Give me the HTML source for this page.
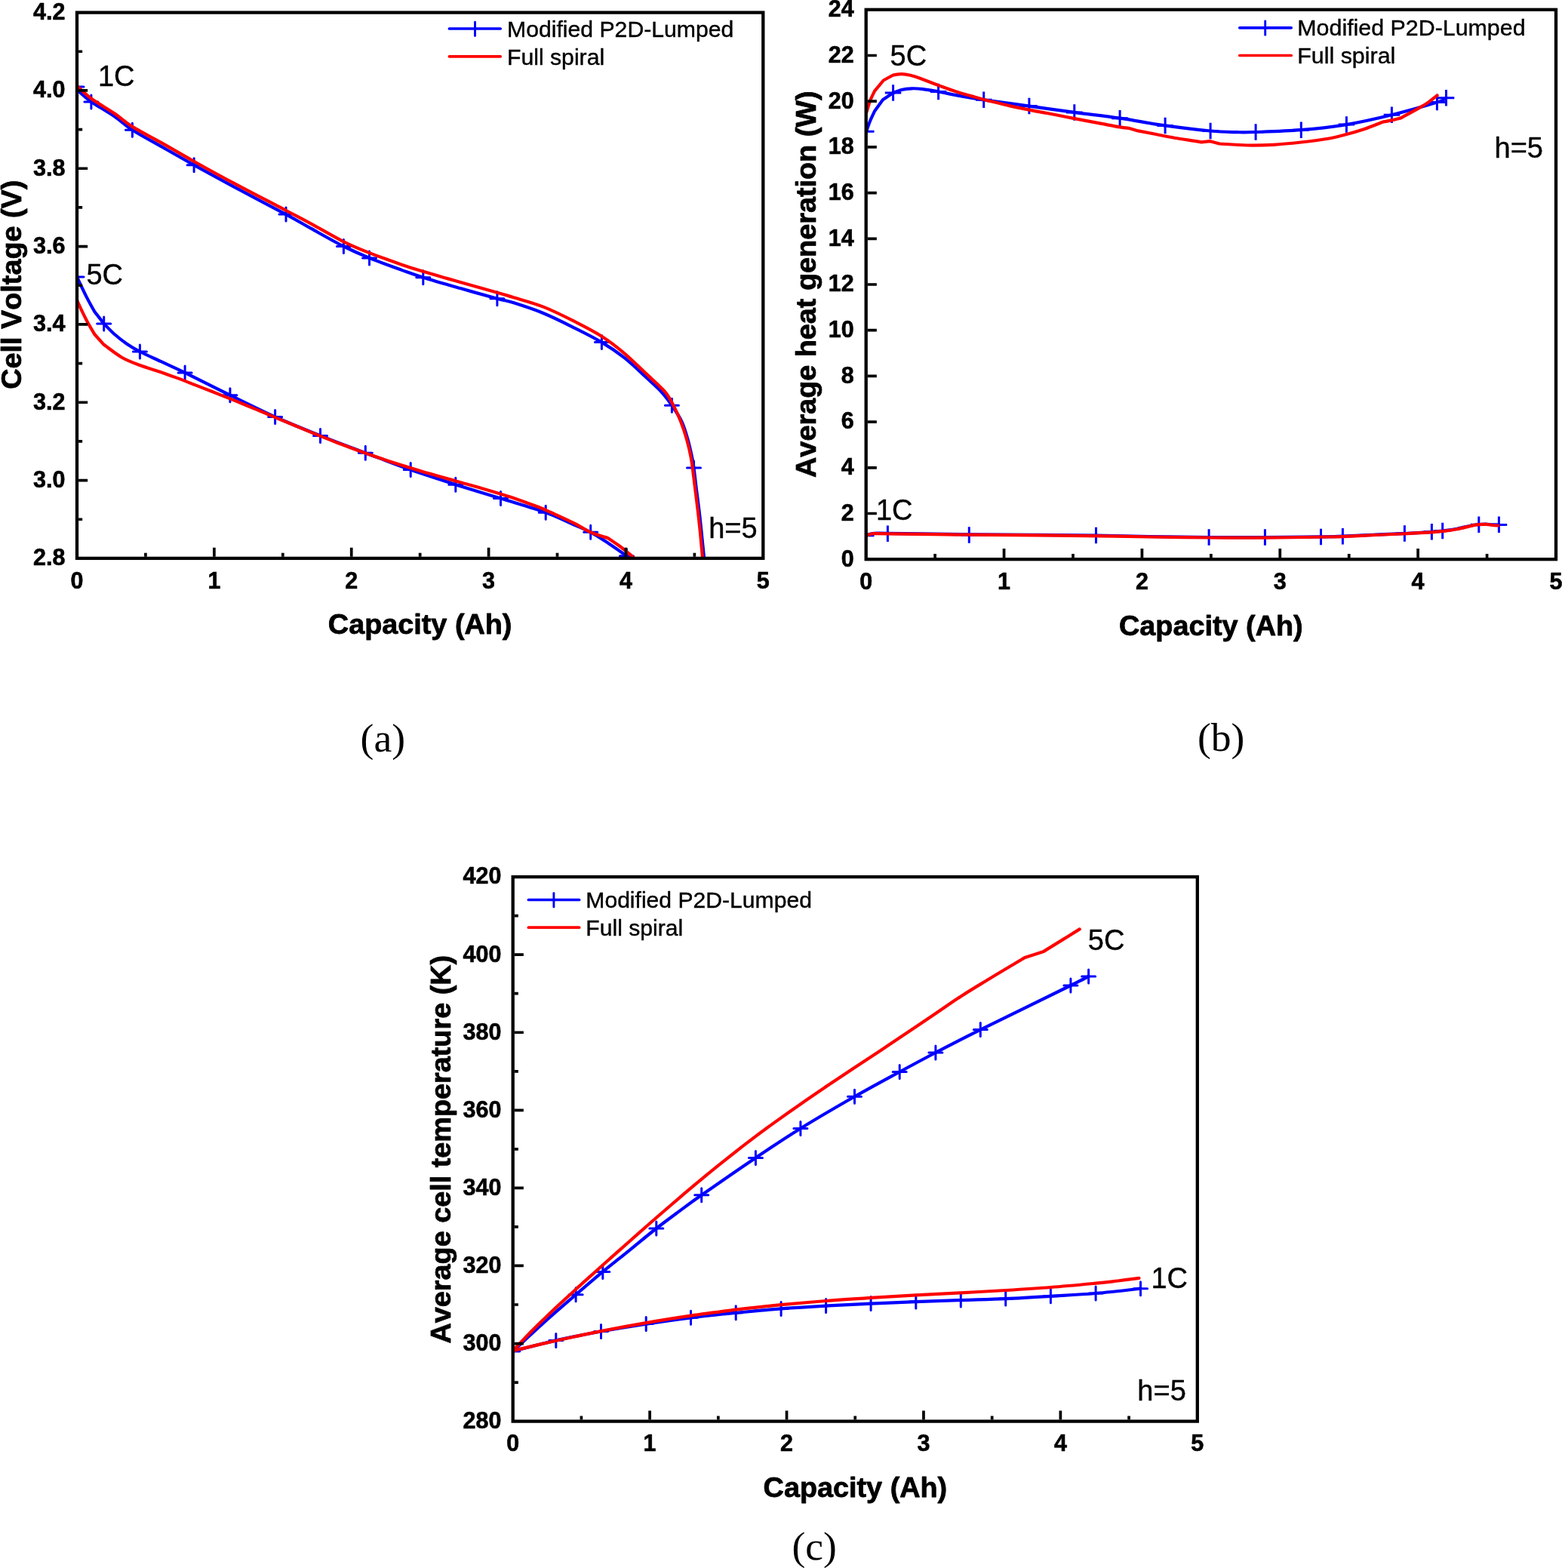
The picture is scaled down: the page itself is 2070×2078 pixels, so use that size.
<!DOCTYPE html>
<html lang="en">
<head>
<meta charset="utf-8">
<title>Modified P2D-Lumped vs Full spiral</title>
<style>
html,body{margin:0;padding:0;background:#fff;}
body{width:2070px;height:2078px;overflow:hidden;}
svg{display:block;}
text{fill:#000;font-kerning:none;}
.tk text{font-family:"Liberation Sans",Arial,sans-serif;font-weight:700;font-size:30.5px;stroke:#000;stroke-width:0.6px;stroke-linejoin:round;}
.ttl{font-family:"Liberation Sans",Arial,sans-serif;font-weight:700;font-size:37.8px;stroke:#000;stroke-width:0.8px;stroke-linejoin:round;}
.lg{font-family:"Liberation Sans",Arial,sans-serif;font-size:30.2px;stroke:#000;stroke-width:0.4px;}
.an{font-family:"Liberation Sans",Arial,sans-serif;font-size:38px;stroke:#000;stroke-width:0.4px;}
.sub{font-family:"Liberation Serif","Times New Roman",serif;font-size:53.5px;}
</style>
</head>
<body>
<svg xmlns="http://www.w3.org/2000/svg" width="2070" height="2078" viewBox="0 0 2070 2078">
<rect width="2070" height="2078" fill="#fff"/>
<g id="chart-a">
<clipPath id="clip-a"><rect x="102.0" y="16.6" width="909.3" height="725.3"/></clipPath>
<g clip-path="url(#clip-a)">
<path d="M102.0,115.0C102.3,115.7 103.2,117.6 104.0,119.0C104.8,120.4 104.2,120.8 107.0,123.5C109.8,126.2 113.4,129.7 120.9,134.9C128.5,140.1 143.2,148.5 152.3,154.7C161.4,160.9 165.0,165.6 175.4,172.3C185.8,179.0 201.1,187.0 214.7,194.7C228.3,202.4 241.5,210.0 257.1,218.7C272.7,227.3 287.9,235.7 308.2,246.6C328.5,257.5 361.6,274.7 379.0,284.1C396.4,293.5 400.2,296.1 412.9,303.2C425.6,310.3 442.6,320.1 455.4,326.5C468.2,332.9 476.6,336.6 489.5,341.9C502.4,347.2 521.0,353.8 532.9,358.1C544.8,362.4 547.9,363.7 560.8,367.7C573.6,371.7 593.6,377.4 610.0,382.1C626.4,386.8 647.2,392.6 658.9,395.8C670.6,399.0 669.9,397.9 680.0,401.1C690.1,404.3 706.2,409.4 719.3,414.8C732.4,420.2 745.7,426.8 758.7,433.3C771.7,439.8 785.9,446.8 797.4,453.6C808.9,460.4 817.6,466.3 827.5,474.2C837.4,482.1 848.8,493.2 857.0,500.8C865.2,508.4 871.1,513.4 876.7,519.5C882.3,525.6 885.9,530.7 890.4,537.2C894.9,543.8 900.0,551.3 903.5,558.8C907.0,566.3 909.2,574.2 911.5,582.4C913.8,590.6 916.2,601.7 917.5,608.0C918.8,614.3 918.7,613.9 919.5,620.1C920.3,626.3 921.3,635.8 922.5,645.3C923.7,654.8 925.3,667.0 926.5,676.8C927.7,686.6 928.5,694.5 929.5,704.3C930.5,714.1 932.1,729.7 932.7,735.8C933.3,741.9 933.1,740.1 933.2,741.0" stroke="#0000ff" stroke-width="4.2" fill="none" stroke-linejoin="round" stroke-linecap="round"/>
<path d="M93.0,115.0h18.0M102.0,106.0v18.0M111.9,134.9h18.0M120.9,125.9v18.0M166.4,172.3h18.0M175.4,163.3v18.0M248.1,218.7h18.0M257.1,209.7v18.0M370.0,284.1h18.0M379.0,275.1v18.0M446.4,326.5h18.0M455.4,317.5v18.0M480.5,341.9h18.0M489.5,332.9v18.0M551.8,367.7h18.0M560.8,358.7v18.0M649.9,395.8h18.0M658.9,386.8v18.0M788.4,453.6h18.0M797.4,444.6v18.0M881.4,537.2h18.0M890.4,528.2v18.0M910.5,620.1h18.0M919.5,611.1v18.0" stroke="#0000ff" stroke-width="3.0" stroke-linecap="round" fill="none"/>
<path d="M102.0,367.1C104.1,371.5 110.8,386.0 114.7,393.6C118.6,401.2 123.5,409.8 125.3,413.0 L137.7,428.9C140.0,431.2 146.8,438.6 151.8,443.0C156.8,447.4 162.1,451.6 167.7,455.4C173.3,459.2 177.8,462.0 185.4,466.0C193.1,470.0 203.7,474.6 213.6,479.2C223.5,483.8 229.9,486.5 245.1,493.9C260.3,501.3 285.0,513.9 304.9,523.7C324.8,533.5 344.7,543.5 364.6,552.5C384.5,561.5 404.6,569.4 424.5,577.4C444.4,585.4 464.4,592.7 484.3,600.2C504.2,607.7 524.3,615.6 544.2,622.6C564.1,629.6 583.9,635.9 603.8,642.2C623.7,648.5 643.6,654.3 663.5,660.5C683.4,666.7 707.3,673.5 723.2,679.2C739.1,684.9 748.8,690.1 758.7,694.5C768.6,698.9 775.5,701.5 782.7,705.3C789.9,709.1 794.0,711.9 801.9,717.1C809.8,722.4 824.9,732.9 830.4,736.8C835.9,740.7 834.2,739.9 835.0,740.5" stroke="#0000ff" stroke-width="4.2" fill="none" stroke-linejoin="round" stroke-linecap="round"/>
<path d="M93.0,367.1h18.0M102.0,358.1v18.0M128.7,428.9h18.0M137.7,419.9v18.0M176.4,466.0h18.0M185.4,457.0v18.0M236.1,493.9h18.0M245.1,484.9v18.0M295.9,523.7h18.0M304.9,514.7v18.0M355.6,552.5h18.0M364.6,543.5v18.0M415.5,577.4h18.0M424.5,568.4v18.0M475.3,600.2h18.0M484.3,591.2v18.0M535.2,622.6h18.0M544.2,613.6v18.0M594.8,642.2h18.0M603.8,633.2v18.0M654.5,660.5h18.0M663.5,651.5v18.0M714.2,679.2h18.0M723.2,670.2v18.0M773.7,705.3h18.0M782.7,696.3v18.0M821.4,736.8h18.0M830.4,727.8v18.0" stroke="#0000ff" stroke-width="3.0" stroke-linecap="round" fill="none"/>
<path d="M102.0,112.0C102.3,112.6 100.8,112.6 104.0,115.7C107.2,118.8 113.2,125.0 121.2,130.8C129.2,136.7 143.3,144.6 152.3,150.8C161.3,157.0 165.0,161.4 175.4,167.9C185.8,174.4 201.1,182.0 214.7,189.7C228.3,197.4 241.5,205.2 257.1,213.9C272.7,222.6 287.9,231.1 308.2,241.9C328.5,252.8 361.7,269.8 379.1,279.0C396.6,288.2 400.2,290.0 412.9,296.9C425.6,303.8 442.6,313.9 455.4,320.3C468.2,326.7 476.6,330.0 489.5,335.1C502.4,340.2 521.0,346.8 532.9,350.9C544.8,355.0 547.9,355.9 560.8,359.8C573.6,363.7 593.6,369.4 610.0,374.0C626.4,378.6 647.2,384.4 658.9,387.7C670.6,391.0 669.9,390.9 680.0,394.0C690.1,397.1 706.2,401.3 719.3,406.4C732.4,411.5 745.7,418.1 758.7,424.7C771.7,431.2 785.9,438.4 797.4,445.7C808.9,453.0 817.6,459.9 827.5,468.3C837.4,476.7 848.8,488.2 857.0,495.9C865.2,503.6 872.1,509.9 876.7,514.5C881.3,519.1 881.7,519.3 884.5,523.4C887.3,527.5 890.4,533.2 893.4,539.1C896.4,545.0 899.4,551.6 902.2,558.8C905.0,566.0 907.8,574.2 910.1,582.4C912.4,590.6 914.2,597.5 916.0,608.0C917.8,618.5 919.4,633.8 920.9,645.3C922.4,656.8 923.6,667.0 924.8,676.8C925.9,686.6 926.8,694.5 927.8,704.3C928.8,714.1 930.1,729.7 930.7,735.8C931.3,741.9 931.1,740.1 931.2,741.0" stroke="#ff0000" stroke-width="4.2" fill="none" stroke-linejoin="round" stroke-linecap="round"/>
<path d="M102.0,397.0C102.2,397.6 101.1,396.0 103.2,400.6C105.3,405.2 111.0,417.4 114.7,424.5C118.4,431.6 123.5,439.9 125.3,443.0 L137.7,456.8C141.7,459.6 153.6,469.2 161.5,473.7C169.4,478.2 177.3,481.0 185.3,484.0C193.3,487.0 201.4,489.2 209.4,491.9C217.4,494.6 225.0,497.4 233.1,500.4C241.2,503.3 249.9,506.8 257.8,509.9C265.7,513.0 272.9,515.7 280.7,518.8C288.5,521.9 296.9,525.2 304.9,528.4C312.8,531.6 320.3,534.7 328.4,538.0C336.4,541.3 345.2,545.0 353.2,548.3C361.1,551.6 368.2,554.5 376.1,557.9C384.0,561.2 392.8,564.8 400.8,568.1C408.8,571.5 416.4,574.6 424.3,577.7C432.2,580.9 438.2,583.4 448.2,587.2C458.2,591.0 470.3,595.7 484.3,600.6C498.3,605.5 518.3,612.1 532.2,616.6C546.1,621.0 556.0,623.8 567.9,627.3C579.8,630.8 591.9,634.1 603.8,637.4C615.7,640.8 627.4,643.9 639.4,647.4C651.4,651.0 664.0,654.6 676.0,658.6C688.0,662.6 703.9,668.5 711.7,671.3C719.5,674.2 715.1,672.3 722.9,675.8C730.7,679.3 748.7,687.4 758.7,692.3C768.7,697.2 774.8,701.9 782.7,705.4C790.6,708.9 802.0,711.9 805.9,713.2C808.5,715.0 816.4,720.1 821.6,724.0C826.8,727.9 834.1,734.0 837.3,736.8C840.5,739.5 840.4,739.9 841.0,740.5" stroke="#ff0000" stroke-width="4.2" fill="none" stroke-linejoin="round" stroke-linecap="round"/>
</g>
<rect x="102.0" y="16.6" width="909.30" height="723.30" fill="none" stroke="#000" stroke-width="4.3"/>
<path d="M192.93,737.75v-5M283.86,737.75v-12M374.79,737.75v-5M465.72,737.75v-12M556.65,737.75v-5M647.58,737.75v-12M738.51,737.75v-5M829.44,737.75v-12M920.37,737.75v-5M104.15,688.24h5M104.15,636.57h12M104.15,584.91h5M104.15,533.24h12M104.15,481.58h5M104.15,429.91h12M104.15,378.25h5M104.15,326.59h12M104.15,274.92h5M104.15,223.26h12M104.15,171.59h5M104.15,119.93h12M104.15,68.26h5" stroke="#000" stroke-width="3.7" fill="none"/>
<g class="tk">
<text transform="translate(102.0,779.9) scale(1,1.04)" text-anchor="middle">0</text>
<text transform="translate(283.9,779.9) scale(1,1.04)" text-anchor="middle">1</text>
<text transform="translate(465.7,779.9) scale(1,1.04)" text-anchor="middle">2</text>
<text transform="translate(647.6,779.9) scale(1,1.04)" text-anchor="middle">3</text>
<text transform="translate(829.4,779.9) scale(1,1.04)" text-anchor="middle">4</text>
<text transform="translate(1011.3,779.9) scale(1,1.04)" text-anchor="middle">5</text>
<text transform="translate(86.5,749.3) scale(1,1.04)" text-anchor="end">2.8</text>
<text transform="translate(86.5,646.0) scale(1,1.04)" text-anchor="end">3.0</text>
<text transform="translate(86.5,542.6) scale(1,1.04)" text-anchor="end">3.2</text>
<text transform="translate(86.5,439.3) scale(1,1.04)" text-anchor="end">3.4</text>
<text transform="translate(86.5,336.0) scale(1,1.04)" text-anchor="end">3.6</text>
<text transform="translate(86.5,232.7) scale(1,1.04)" text-anchor="end">3.8</text>
<text transform="translate(86.5,129.3) scale(1,1.04)" text-anchor="end">4.0</text>
<text transform="translate(86.5,26.0) scale(1,1.04)" text-anchor="end">4.2</text>
</g>
<text class="ttl" transform="translate(556.65,840.2) scale(1,1)" text-anchor="middle">Capacity (Ah)</text>
<text class="ttl" transform="translate(28.0,377.2) rotate(-90)" text-anchor="middle">Cell Voltage (V)</text>
<text class="sub" x="507.3" y="995.8" text-anchor="middle">(a)</text>
<path d="M595.4,38.0H663.2" stroke="#0000ff" stroke-width="3.7" stroke-linecap="round"/>
<path d="M629.5,29.1v18.4" stroke="#0000ff" stroke-width="2.9" stroke-linecap="round"/>
<path d="M595.4,74.8H663.2" stroke="#ff0000" stroke-width="3.7" stroke-linecap="round"/>
<text class="lg" transform="translate(672.0,48.5)">Modified P2D-Lumped</text>
<text class="lg" transform="translate(672.0,85.8)">Full spiral</text>
<text class="an" transform="translate(130,113.6) scale(1,1.04)">1C</text>
<text class="an" transform="translate(114.5,376.8) scale(1,1.04)">5C</text>
<text class="an" transform="translate(939.2,713.4) scale(1,1)">h=5</text>
</g>
<g id="chart-b">
<clipPath id="clip-b"><rect x="1147.7" y="12.8" width="914.3" height="730.4000000000001"/></clipPath>
<g clip-path="url(#clip-b)">
<path d="M1147.7,174.3C1147.9,173.8 1148.2,173.7 1149.1,171.3C1150.0,168.9 1151.6,163.7 1153.3,159.7C1155.0,155.7 1158.1,149.3 1159.1,147.2 L1169.9,132.3 L1183.6,123.1C1185.5,122.4 1190.8,120.0 1194.9,119.0C1199.0,118.0 1203.5,117.5 1208.2,117.3C1212.9,117.1 1217.2,117.4 1223.1,118.1C1229.0,118.8 1235.3,120.0 1243.6,121.5C1251.9,123.0 1263.0,125.5 1273.0,127.3C1283.0,129.1 1288.5,130.1 1303.7,132.3C1318.9,134.5 1343.9,137.8 1363.9,140.6C1383.9,143.4 1403.8,146.2 1423.8,148.9C1443.8,151.6 1464.0,153.8 1484.1,156.7C1504.1,159.6 1524.1,163.6 1544.1,166.4C1564.1,169.2 1588.2,172.0 1604.1,173.5C1620.0,175.0 1629.5,174.9 1639.5,175.2C1649.5,175.4 1650.0,175.5 1664.1,175.0C1678.2,174.5 1704.2,173.8 1724.3,172.2C1744.3,170.5 1764.4,168.4 1784.4,165.1C1804.4,161.8 1824.4,157.2 1844.4,152.3C1864.4,147.4 1892.4,139.3 1904.4,135.6C1916.4,131.8 1914.5,130.8 1916.5,129.8" stroke="#0000ff" stroke-width="4.2" fill="none" stroke-linejoin="round" stroke-linecap="round"/>
<path d="M1137.0,174.3h21.5M1147.7,163.6v21.5M1172.8,123.1h21.5M1183.6,112.3v21.5M1232.8,121.5h21.5M1243.6,110.8v21.5M1293.0,132.3h21.5M1303.7,121.6v21.5M1353.2,140.6h21.5M1363.9,129.8v21.5M1413.0,148.9h21.5M1423.8,138.2v21.5M1473.3,156.7h21.5M1484.1,145.9v21.5M1533.3,166.4h21.5M1544.1,155.7v21.5M1593.3,173.5h21.5M1604.1,162.8v21.5M1653.3,175.0h21.5M1664.1,164.2v21.5M1713.5,172.2h21.5M1724.3,161.4v21.5M1773.7,165.1h21.5M1784.4,154.3v21.5M1833.7,152.3h21.5M1844.4,141.6v21.5M1893.7,135.6h21.5M1904.4,124.8v21.5M1905.8,129.8h21.5M1916.5,119.1v21.5" stroke="#0000ff" stroke-width="3.0" stroke-linecap="butt" fill="none"/>
<path d="M1147.7,709.8C1149.2,709.3 1151.8,707.5 1156.6,707.0C1161.4,706.5 1155.1,706.6 1176.4,706.8C1197.7,707.0 1251.6,707.9 1284.3,708.3C1317.0,708.6 1344.7,708.7 1372.7,708.9C1400.7,709.1 1427.4,709.1 1452.5,709.5C1477.6,709.9 1498.2,710.6 1523.1,711.0C1548.0,711.4 1576.5,711.8 1602.1,712.0C1627.6,712.2 1651.7,712.1 1676.4,712.0C1701.1,711.9 1733.3,711.5 1750.5,711.3C1767.7,711.1 1767.3,711.0 1779.4,710.6C1791.5,710.2 1809.4,709.2 1823.1,708.6C1836.8,708.0 1849.0,707.6 1861.4,707.0C1873.8,706.4 1889.0,705.4 1897.4,704.8C1905.8,704.2 1906.1,704.2 1911.7,703.5C1917.3,702.8 1924.9,701.9 1931.2,700.7C1937.5,699.5 1944.7,697.5 1949.5,696.5C1954.3,695.5 1956.5,695.3 1959.8,695.0C1963.1,694.7 1966.4,694.5 1969.4,694.6C1972.4,694.7 1974.9,695.3 1977.7,695.4C1980.5,695.5 1985.0,695.4 1986.4,695.4" stroke="#0000ff" stroke-width="4.2" fill="none" stroke-linejoin="round" stroke-linecap="round"/>
<path d="M1137.0,709.8h21.5M1147.7,699.0v21.5M1165.7,707.3h21.5M1176.4,696.5v21.5M1273.5,709.0h21.5M1284.3,698.2v21.5M1441.8,709.5h21.5M1452.5,698.8v21.5M1591.3,712.0h21.5M1602.1,701.2v21.5M1665.7,712.0h21.5M1676.4,701.2v21.5M1739.8,711.5h21.5M1750.5,700.8v21.5M1768.7,710.6h21.5M1779.4,699.9v21.5M1850.7,707.0h21.5M1861.4,696.2v21.5M1886.7,704.8h21.5M1897.4,694.0v21.5M1901.0,703.5h21.5M1911.7,692.8v21.5M1949.0,695.2h21.5M1959.8,684.5v21.5M1975.7,695.4h21.5M1986.4,684.6v21.5" stroke="#0000ff" stroke-width="3.0" stroke-linecap="butt" fill="none"/>
<path d="M1147.7,150.0C1147.9,149.4 1148.2,149.2 1149.1,146.4C1150.0,143.6 1151.6,137.4 1153.3,133.1C1155.0,128.8 1158.1,122.7 1159.1,120.6 L1170.8,106.5 L1183.6,99.5C1185.5,99.3 1191.1,98.2 1194.9,98.2C1198.7,98.2 1202.3,98.8 1206.5,99.8C1210.7,100.8 1213.6,101.8 1219.8,104.0C1226.0,106.2 1235.7,110.2 1243.6,113.1C1251.5,116.0 1259.2,119.0 1267.2,121.5C1275.2,124.0 1283.3,126.2 1291.3,128.4C1299.3,130.6 1307.4,132.8 1315.4,134.8C1323.4,136.8 1331.4,138.8 1339.5,140.6C1347.6,142.4 1355.9,144.0 1363.9,145.6C1371.9,147.2 1379.7,148.5 1387.7,150.0C1395.7,151.5 1403.8,153.1 1411.8,154.7C1419.8,156.3 1427.9,157.9 1435.9,159.4C1443.9,160.9 1451.9,162.4 1459.9,163.9C1467.9,165.4 1478.0,167.4 1484.1,168.4C1490.2,169.4 1494.4,169.7 1496.5,170.0 L1508.2,173.4C1512.2,174.2 1524.3,176.4 1532.3,178.0C1540.3,179.6 1548.5,181.3 1556.4,182.7C1564.3,184.1 1573.6,185.4 1579.6,186.3C1585.5,187.2 1590.0,188.0 1592.1,188.3 L1603.7,187.2 L1616.2,190.5C1622.2,190.8 1640.1,192.3 1652.0,192.5C1663.9,192.7 1675.7,192.5 1687.7,191.8C1699.8,191.1 1712.3,189.8 1724.3,188.5C1736.3,187.2 1749.9,185.6 1759.9,183.8C1769.9,182.1 1776.4,180.1 1784.4,178.0C1792.5,175.9 1800.2,173.7 1808.2,171.0C1816.2,168.3 1828.3,163.2 1832.3,161.7C1834.3,161.3 1840.4,160.3 1844.4,159.4C1848.4,158.5 1854.4,156.9 1856.4,156.4C1860.4,154.2 1874.4,146.6 1880.5,143.1C1886.6,139.6 1888.9,138.4 1892.9,135.6C1896.9,132.8 1902.6,128.0 1904.6,126.5" stroke="#ff0000" stroke-width="4.2" fill="none" stroke-linejoin="round" stroke-linecap="round"/>
<path d="M1147.7,710.5C1148.1,710.2 1148.5,709.5 1150.0,709.0C1151.5,708.5 1152.2,707.6 1156.6,707.3C1161.0,707.0 1155.1,707.1 1176.4,707.3C1197.7,707.5 1251.6,708.4 1284.3,708.7C1317.0,709.0 1343.4,709.0 1372.7,709.3C1402.0,709.6 1434.9,709.9 1460.0,710.3C1485.1,710.7 1499.4,711.1 1523.1,711.5C1546.8,711.9 1576.5,712.3 1602.1,712.5C1627.6,712.7 1650.1,712.8 1676.4,712.6C1702.7,712.4 1742.8,711.8 1760.0,711.5C1777.2,711.2 1768.9,711.5 1779.4,711.1C1789.9,710.7 1809.4,709.6 1823.1,709.0C1836.8,708.4 1849.0,707.9 1861.4,707.3C1873.8,706.7 1889.0,705.8 1897.4,705.3C1905.8,704.8 1906.1,704.7 1911.7,704.0C1917.3,703.3 1924.9,702.4 1931.2,701.2C1937.5,700.0 1944.7,697.9 1949.5,696.9C1954.3,695.9 1956.5,695.5 1959.8,695.2C1963.1,694.9 1966.4,694.8 1969.4,694.9C1972.4,695.0 1975.1,695.7 1977.7,696.0C1980.3,696.3 1984.0,696.4 1985.2,696.5" stroke="#ff0000" stroke-width="4.2" fill="none" stroke-linejoin="round" stroke-linecap="round"/>
</g>
<rect x="1147.7" y="12.8" width="914.30" height="728.40" fill="none" stroke="#000" stroke-width="4.3"/>
<path d="M1239.13,739.05v-5M1330.56,739.05v-12M1421.99,739.05v-5M1513.42,739.05v-12M1604.85,739.05v-5M1696.28,739.05v-12M1787.71,739.05v-5M1879.14,739.05v-12M1970.57,739.05v-5M1149.85,680.50h12M1149.85,619.80h12M1149.85,559.10h12M1149.85,498.40h12M1149.85,437.70h12M1149.85,377.00h12M1149.85,316.30h12M1149.85,255.60h12M1149.85,194.90h12M1149.85,134.20h12M1149.85,73.50h12" stroke="#000" stroke-width="3.7" fill="none"/>
<g class="tk">
<text transform="translate(1147.7,781.1) scale(1,1.04)" text-anchor="middle">0</text>
<text transform="translate(1330.6,781.1) scale(1,1.04)" text-anchor="middle">1</text>
<text transform="translate(1513.4,781.1) scale(1,1.04)" text-anchor="middle">2</text>
<text transform="translate(1696.3,781.1) scale(1,1.04)" text-anchor="middle">3</text>
<text transform="translate(1879.1,781.1) scale(1,1.04)" text-anchor="middle">4</text>
<text transform="translate(2062.0,781.1) scale(1,1.04)" text-anchor="middle">5</text>
<text transform="translate(1131.7,750.5) scale(1,1.04)" text-anchor="end">0</text>
<text transform="translate(1131.7,689.8) scale(1,1.04)" text-anchor="end">2</text>
<text transform="translate(1131.7,629.1) scale(1,1.04)" text-anchor="end">4</text>
<text transform="translate(1131.7,568.4) scale(1,1.04)" text-anchor="end">6</text>
<text transform="translate(1131.7,507.7) scale(1,1.04)" text-anchor="end">8</text>
<text transform="translate(1131.7,447.0) scale(1,1.04)" text-anchor="end">10</text>
<text transform="translate(1131.7,386.3) scale(1,1.04)" text-anchor="end">12</text>
<text transform="translate(1131.7,325.6) scale(1,1.04)" text-anchor="end">14</text>
<text transform="translate(1131.7,264.9) scale(1,1.04)" text-anchor="end">16</text>
<text transform="translate(1131.7,204.2) scale(1,1.04)" text-anchor="end">18</text>
<text transform="translate(1131.7,143.5) scale(1,1.04)" text-anchor="end">20</text>
<text transform="translate(1131.7,82.8) scale(1,1.04)" text-anchor="end">22</text>
<text transform="translate(1131.7,22.1) scale(1,1.04)" text-anchor="end">24</text>
</g>
<text class="ttl" transform="translate(1604.8,841.8) scale(1,1)" text-anchor="middle">Capacity (Ah)</text>
<text class="ttl" transform="translate(1081.3,376.7) rotate(-90)" text-anchor="middle">Average heat generation (W)</text>
<text class="sub" x="1618.1" y="995.3" text-anchor="middle">(b)</text>
<path d="M1642.8,36.8H1711.2" stroke="#0000ff" stroke-width="3.7" stroke-linecap="round"/>
<path d="M1676.7,27.9v18.4" stroke="#0000ff" stroke-width="2.9" stroke-linecap="round"/>
<path d="M1642.8,73.5H1711.2" stroke="#ff0000" stroke-width="3.7" stroke-linecap="round"/>
<text class="lg" style="font-size:30.38px" transform="translate(1719.3,46.8)">Modified P2D-Lumped</text>
<text class="lg" style="font-size:30.38px" transform="translate(1719.3,84.1)">Full spiral</text>
<text class="an" transform="translate(1179.6,86.6) scale(1,1.04)">5C</text>
<text class="an" transform="translate(1160.9,689) scale(1,1.04)">1C</text>
<text class="an" transform="translate(1980.5,208.8) scale(1,1)">h=5</text>
</g>
<g id="chart-c">
<clipPath id="clip-c"><rect x="679.7" y="1162.1" width="907.0999999999999" height="723.5"/></clipPath>
<g clip-path="url(#clip-c)">
<path d="M679.7,1790.8C686.9,1784.1 709.1,1763.2 723.0,1750.7C736.9,1738.2 750.5,1726.7 763.1,1715.8C775.7,1704.9 786.9,1695.2 798.8,1685.4C810.7,1675.6 822.5,1666.4 834.3,1656.8C846.1,1647.2 858.9,1636.5 869.8,1628.0C880.7,1619.5 889.6,1613.0 899.6,1605.6C909.6,1598.2 912.7,1595.7 929.7,1583.8C946.7,1571.9 979.5,1549.1 1001.4,1534.4C1023.3,1519.7 1039.1,1509.0 1060.9,1495.5C1082.8,1482.0 1110.6,1465.8 1132.5,1453.3C1154.4,1440.8 1174.3,1430.2 1192.2,1420.5C1210.1,1410.8 1222.1,1404.3 1239.9,1395.0C1257.8,1385.7 1269.5,1379.4 1299.3,1364.6C1329.1,1349.8 1395.0,1317.8 1418.9,1306.0C1442.8,1294.2 1438.6,1296.0 1442.6,1294.0" stroke="#0000ff" stroke-width="4.2" fill="none" stroke-linejoin="round" stroke-linecap="round"/>
<path d="M670.7,1790.8h18.0M679.7,1781.8v18.0M754.1,1715.8h18.0M763.1,1706.8v18.0M789.8,1685.4h18.0M798.8,1676.4v18.0M860.8,1628.0h18.0M869.8,1619.0v18.0M920.7,1583.8h18.0M929.7,1574.8v18.0M992.4,1534.4h18.0M1001.4,1525.4v18.0M1051.9,1495.5h18.0M1060.9,1486.5v18.0M1123.5,1453.3h18.0M1132.5,1444.3v18.0M1183.2,1420.5h18.0M1192.2,1411.5v18.0M1230.9,1395.0h18.0M1239.9,1386.0v18.0M1290.3,1364.6h18.0M1299.3,1355.6v18.0M1409.9,1306.0h18.0M1418.9,1297.0v18.0M1433.6,1294.0h18.0M1442.6,1285.0v18.0" stroke="#0000ff" stroke-width="3.0" stroke-linecap="round" fill="none"/>
<path d="M679.7,1790.8C689.2,1788.4 717.3,1780.8 736.8,1776.4C756.3,1772.0 776.6,1768.1 796.5,1764.5C816.4,1760.9 836.4,1757.6 856.2,1754.6C876.0,1751.6 895.7,1748.8 915.5,1746.3C935.3,1743.8 955.3,1741.8 975.2,1739.8C995.1,1737.8 1015.2,1735.9 1035.1,1734.4C1055.0,1732.9 1074.8,1731.7 1094.6,1730.6C1114.4,1729.5 1134.2,1728.5 1154.1,1727.6C1174.0,1726.7 1193.9,1725.8 1213.8,1725.1C1233.7,1724.3 1253.5,1723.8 1273.3,1723.1C1293.1,1722.4 1312.8,1722.0 1332.7,1721.1C1352.6,1720.2 1372.5,1719.0 1392.4,1717.8C1412.3,1716.6 1432.2,1715.7 1452.1,1714.0C1471.9,1712.3 1501.6,1708.8 1511.5,1707.7" stroke="#0000ff" stroke-width="4.2" fill="none" stroke-linejoin="round" stroke-linecap="round"/>
<path d="M670.7,1790.8h18.0M679.7,1781.8v18.0M727.8,1776.4h18.0M736.8,1767.4v18.0M787.5,1764.5h18.0M796.5,1755.5v18.0M847.2,1754.6h18.0M856.2,1745.6v18.0M906.5,1746.3h18.0M915.5,1737.3v18.0M966.2,1739.8h18.0M975.2,1730.8v18.0M1026.1,1734.4h18.0M1035.1,1725.4v18.0M1085.6,1730.6h18.0M1094.6,1721.6v18.0M1145.1,1727.6h18.0M1154.1,1718.6v18.0M1204.8,1725.1h18.0M1213.8,1716.1v18.0M1264.3,1723.1h18.0M1273.3,1714.1v18.0M1323.7,1721.1h18.0M1332.7,1712.1v18.0M1383.4,1717.8h18.0M1392.4,1708.8v18.0M1443.1,1714.0h18.0M1452.1,1705.0v18.0M1502.5,1707.7h18.0M1511.5,1698.7v18.0" stroke="#0000ff" stroke-width="3.0" stroke-linecap="round" fill="none"/>
<path d="M679.7,1790.0C684.0,1785.6 698.1,1770.6 705.3,1763.3C712.5,1755.9 717.1,1751.6 723.0,1745.9C728.9,1740.3 733.9,1735.5 740.6,1729.3C747.3,1723.1 755.7,1715.4 763.1,1708.7C770.5,1701.9 778.8,1694.4 784.8,1689.1C790.8,1683.7 792.9,1681.8 798.8,1676.5C804.7,1671.3 812.1,1664.6 820.1,1657.6C828.1,1650.5 838.3,1641.5 846.6,1634.1C854.9,1626.8 861.3,1621.2 870.1,1613.5C878.9,1605.9 889.7,1596.6 899.6,1588.1C909.5,1579.6 920.5,1570.4 929.8,1562.7C939.1,1555.0 945.2,1549.9 955.3,1541.9C965.4,1533.8 978.8,1523.2 990.6,1514.2C1002.4,1505.2 1014.2,1496.4 1026.0,1487.9C1037.8,1479.3 1049.5,1471.0 1061.3,1462.9C1073.1,1454.7 1084.8,1446.8 1096.6,1438.8C1108.4,1430.9 1120.1,1423.2 1131.9,1415.3C1143.7,1407.5 1155.5,1399.7 1167.3,1391.9C1179.1,1384.1 1190.8,1376.2 1202.6,1368.3C1214.4,1360.4 1225.8,1352.7 1237.9,1344.5C1250.0,1336.4 1263.2,1327.0 1275.3,1319.2C1287.4,1311.4 1298.8,1304.7 1310.6,1297.5C1322.4,1290.3 1338.0,1281.1 1346.0,1276.3C1354.0,1271.5 1356.2,1270.1 1358.3,1268.9 L1383.1,1260.9C1387.2,1258.4 1399.9,1250.5 1407.8,1245.6C1415.7,1240.7 1426.9,1233.8 1430.7,1231.4" stroke="#ff0000" stroke-width="4.2" fill="none" stroke-linejoin="round" stroke-linecap="round"/>
<path d="M679.7,1790.1C689.2,1787.9 717.3,1781.1 736.8,1776.7C756.3,1772.4 776.6,1768.1 796.5,1764.1C816.4,1760.2 836.4,1756.5 856.2,1753.1C876.0,1749.6 895.7,1746.5 915.5,1743.6C935.3,1740.7 961.1,1737.5 975.2,1735.7C989.3,1733.9 990.0,1733.9 1000.0,1732.8C1010.0,1731.7 1019.3,1730.7 1035.1,1729.2C1050.9,1727.7 1074.8,1725.6 1094.6,1724.0C1114.4,1722.4 1134.2,1721.1 1154.1,1719.8C1174.0,1718.6 1193.9,1717.5 1213.8,1716.4C1233.7,1715.3 1253.5,1714.3 1273.3,1713.3C1293.1,1712.2 1312.8,1711.2 1332.7,1710.0C1352.6,1708.8 1372.5,1707.6 1392.4,1706.0C1412.3,1704.5 1437.3,1702.1 1452.1,1700.7C1466.9,1699.3 1471.6,1698.6 1481.2,1697.5C1490.8,1696.3 1504.8,1694.4 1509.5,1693.8" stroke="#ff0000" stroke-width="4.2" fill="none" stroke-linejoin="round" stroke-linecap="round"/>
</g>
<rect x="679.7" y="1162.1" width="907.10" height="721.50" fill="none" stroke="#000" stroke-width="4.3"/>
<path d="M770.41,1881.45v-5M861.12,1881.45v-12M951.83,1881.45v-5M1042.54,1881.45v-12M1133.25,1881.45v-5M1223.96,1881.45v-12M1314.67,1881.45v-5M1405.38,1881.45v-12M1496.09,1881.45v-5M681.85,1832.06h5M681.85,1780.53h12M681.85,1728.99h5M681.85,1677.46h12M681.85,1625.92h5M681.85,1574.39h12M681.85,1522.85h5M681.85,1471.31h12M681.85,1419.78h5M681.85,1368.24h12M681.85,1316.71h5M681.85,1265.17h12M681.85,1213.64h5" stroke="#000" stroke-width="3.7" fill="none"/>
<g class="tk">
<text transform="translate(679.7,1922.9) scale(1,1.04)" text-anchor="middle">0</text>
<text transform="translate(861.1,1922.9) scale(1,1.04)" text-anchor="middle">1</text>
<text transform="translate(1042.5,1922.9) scale(1,1.04)" text-anchor="middle">2</text>
<text transform="translate(1224.0,1922.9) scale(1,1.04)" text-anchor="middle">3</text>
<text transform="translate(1405.4,1922.9) scale(1,1.04)" text-anchor="middle">4</text>
<text transform="translate(1586.8,1922.9) scale(1,1.04)" text-anchor="middle">5</text>
<text transform="translate(664.4,1892.9) scale(1,1.04)" text-anchor="end">280</text>
<text transform="translate(664.4,1789.8) scale(1,1.04)" text-anchor="end">300</text>
<text transform="translate(664.4,1686.8) scale(1,1.04)" text-anchor="end">320</text>
<text transform="translate(664.4,1583.7) scale(1,1.04)" text-anchor="end">340</text>
<text transform="translate(664.4,1480.6) scale(1,1.04)" text-anchor="end">360</text>
<text transform="translate(664.4,1377.5) scale(1,1.04)" text-anchor="end">380</text>
<text transform="translate(664.4,1274.5) scale(1,1.04)" text-anchor="end">400</text>
<text transform="translate(664.4,1171.4) scale(1,1.04)" text-anchor="end">420</text>
</g>
<text class="ttl" transform="translate(1133.4,1983.5) scale(1,1)" text-anchor="middle">Capacity (Ah)</text>
<text class="ttl" transform="translate(597.0,1523.2) rotate(-90)" text-anchor="middle">Average cell temperature (K)</text>
<text class="sub" x="1079.2" y="2067.1" text-anchor="middle">(c)</text>
<path d="M700.4,1192.5H767.6" stroke="#0000ff" stroke-width="3.7" stroke-linecap="round"/>
<path d="M733.9,1183.6v18.4" stroke="#0000ff" stroke-width="2.9" stroke-linecap="round"/>
<path d="M700.4,1229.2H767.6" stroke="#ff0000" stroke-width="3.7" stroke-linecap="round"/>
<text class="lg" style="font-size:30.12px" transform="translate(776.3,1202.8)">Modified P2D-Lumped</text>
<text class="lg" style="font-size:30.12px" transform="translate(776.3,1240.1)">Full spiral</text>
<text class="an" transform="translate(1441.8,1258.8) scale(1,1.04)">5C</text>
<text class="an" transform="translate(1525.4,1706.5) scale(1,1.04)">1C</text>
<text class="an" transform="translate(1507.3,1855.8) scale(1,1)">h=5</text>
</g>
</svg>
</body>
</html>
